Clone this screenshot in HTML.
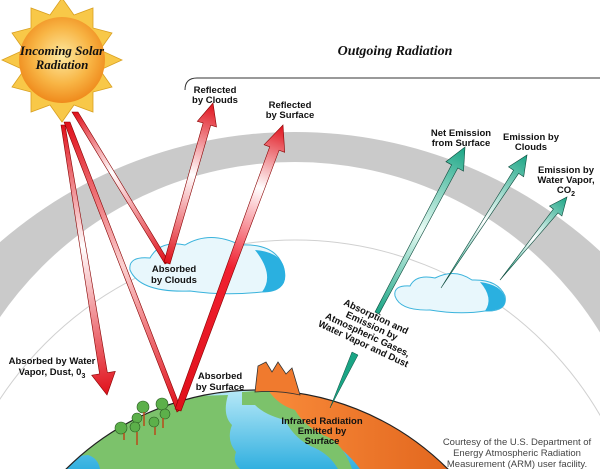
<!DOCTYPE html>
<html><head><meta charset="utf-8"><style>
html,body{margin:0;padding:0;background:#fff;overflow:hidden}
svg{display:block}
text{font-family:"Liberation Sans",sans-serif;font-weight:bold;font-size:9.5px;fill:#111}
</style></head><body>
<svg width="600" height="469" viewBox="0 0 600 469" xmlns="http://www.w3.org/2000/svg">
<defs>
<radialGradient id="sun" cx="50%" cy="45%" r="55%"><stop offset="0" stop-color="#fde9a0"/><stop offset="0.6" stop-color="#f8b545"/><stop offset="1" stop-color="#ef8a1c"/></radialGradient>
<linearGradient id="r1" x1="63" y1="125" x2="107" y2="395" gradientUnits="userSpaceOnUse"><stop offset="0" stop-color="#e0101a"/><stop offset="0.45" stop-color="#fff"/><stop offset="1" stop-color="#e0101a"/></linearGradient>
<linearGradient id="r2" x1="67" y1="122" x2="178" y2="410" gradientUnits="userSpaceOnUse"><stop offset="0" stop-color="#e0101a"/><stop offset="0.5" stop-color="#fbd0d0"/><stop offset="1" stop-color="#e0101a"/></linearGradient>
<linearGradient id="r3" x1="178" y1="410" x2="283" y2="125" gradientUnits="userSpaceOnUse"><stop offset="0" stop-color="#e0101a"/><stop offset="0.5" stop-color="#f02030"/><stop offset="0.78" stop-color="#fff"/><stop offset="1" stop-color="#e0101a"/></linearGradient>
<linearGradient id="r4" x1="167" y1="263" x2="213" y2="103" gradientUnits="userSpaceOnUse"><stop offset="0" stop-color="#e0101a"/><stop offset="0.55" stop-color="#fff"/><stop offset="1" stop-color="#e0101a"/></linearGradient>
<linearGradient id="r5" x1="75" y1="112" x2="167" y2="263" gradientUnits="userSpaceOnUse"><stop offset="0" stop-color="#e0101a"/><stop offset="0.4" stop-color="#fff"/><stop offset="1" stop-color="#e0101a"/></linearGradient>
<linearGradient id="t1" x1="377" y1="313" x2="465" y2="147" gradientUnits="userSpaceOnUse"><stop offset="0" stop-color="#1aa585"/><stop offset="0.5" stop-color="#e8fbf4"/><stop offset="1" stop-color="#1aa585"/></linearGradient>
<linearGradient id="t2" x1="441" y1="288" x2="527" y2="155" gradientUnits="userSpaceOnUse"><stop offset="0" stop-color="#1aa585"/><stop offset="0.5" stop-color="#fff"/><stop offset="1" stop-color="#1aa585"/></linearGradient>
<linearGradient id="t3" x1="500" y1="280" x2="567" y2="197" gradientUnits="userSpaceOnUse"><stop offset="0" stop-color="#1aa585"/><stop offset="0.5" stop-color="#fff"/><stop offset="1" stop-color="#1aa585"/></linearGradient>
<linearGradient id="orange" x1="0" y1="0" x2="1" y2="0"><stop offset="0" stop-color="#f98b3a"/><stop offset="1" stop-color="#d04a08"/></linearGradient>
<linearGradient id="sea" x1="0" y1="0" x2="0" y2="1"><stop offset="0" stop-color="#c8f0fb"/><stop offset="1" stop-color="#1fa8dc"/></linearGradient>
<clipPath id="earth"><circle cx="257" cy="660" r="270"/></clipPath>
<mask id="band"><rect width="600" height="469" fill="#fff"/><circle cx="295" cy="520" r="358" fill="#000"/></mask>
</defs>

<!-- gray atmosphere band -->
<circle cx="295" cy="582" r="450" fill="#cacaca" mask="url(#band)"/>
<circle cx="295" cy="593" r="353" fill="none" stroke="#d0d0d0" stroke-width="1"/>

<!-- outgoing bracket -->
<path d="M185 90 Q185 78 197 78 L600 78" fill="none" stroke="#333" stroke-width="1"/>
<text x="395" y="55" text-anchor="middle" style="font-family:'Liberation Serif',serif;font-style:italic;font-size:14px">Outgoing Radiation</text>

<!-- earth -->
<g clip-path="url(#earth)">
<rect x="0" y="380" width="600" height="100" fill="url(#sea)"/>
<path d="M60 400 L228 395 Q222 415 232 425 Q226 440 236 452 Q232 462 240 469 L100 469 Q98 458 88 455 L60 458 Z" fill="#7cc26b"/>
<path d="M262 390 Q270 405 290 410 Q300 430 330 440 Q350 455 360 469 L600 469 L600 380 L262 380 Z" fill="url(#orange)"/>
<path d="M242 392 L268 390 Q278 405 295 410 Q305 428 330 438 Q345 448 352 469 L338 469 Q330 455 315 448 Q295 440 285 420 Q265 415 255 405 L242 405 Z" fill="#7cc26b"/>
</g>
<circle cx="257" cy="660" r="270" fill="none" stroke="#222" stroke-width="1.2"/>
<!-- mountain -->
<path d="M255 392 L258 366 L266 362 L272 372 L278 362 L286 374 L292 368 L300 395 Q278 390 255 392 Z" fill="#f07a2e" stroke="#333" stroke-width="0.8"/>
<!-- trees -->
<g fill="#5cb04a" stroke="#2a5a22" stroke-width="0.6">
<circle cx="121" cy="428" r="6"/><circle cx="143" cy="407" r="6"/><circle cx="137" cy="418" r="5"/><circle cx="162" cy="404" r="6"/><circle cx="135" cy="427" r="5"/><circle cx="154" cy="422" r="5"/><circle cx="165" cy="414" r="5"/>
</g>
<g stroke="#b84a1a" stroke-width="1.5"><line x1="124" y1="433" x2="124" y2="440"/><line x1="144" y1="412" x2="144" y2="426"/><line x1="137" y1="432" x2="137" y2="445"/><line x1="155" y1="427" x2="155" y2="435"/><line x1="163" y1="418" x2="163" y2="428"/></g>

<!-- clouds -->
<path d="M130 270 Q128 256 150 258 Q160 240 185 245 Q210 230 240 245 Q278 243 284 270 Q288 292 262 292 Q225 296 190 291 Q140 293 130 270 Z" fill="#e8f7fc" stroke="#3ab3dc" stroke-width="1"/>
<path d="M255 250 Q283 252 285 272 Q288 292 262 292 Q275 275 255 250 Z" fill="#2ab0e0"/>
<path d="M395 296 Q393 285 410 286 Q416 274 435 278 Q455 268 472 280 Q498 279 505 296 Q508 312 485 311 Q460 315 430 310 Q400 311 395 296 Z" fill="#e8f7fc" stroke="#3ab3dc" stroke-width="1"/>
<path d="M480 282 Q502 285 505 298 Q507 311 485 311 Q494 298 480 282 Z" fill="#2ab0e0"/>

<!-- red arrows -->
<polygon points="61,125 65,125 107.4,372.7 115.3,371.4 107,395 91.7,375.2 99.6,373.9" fill="url(#r1)" stroke="#800" stroke-width="0.6"/>
<polygon points="64,122 70,122 181,409 177,412" fill="url(#r2)" stroke="#800" stroke-width="0.6"/>
<polygon points="175,409 269.7,146.8 264.1,144.7 283,125 284.7,152.3 279.1,150.2 181,411" fill="url(#r3)" stroke="#800" stroke-width="0.6"/>
<polygon points="72,112 78,112 169,262 165,264" fill="url(#r5)" stroke="#800" stroke-width="0.6"/>
<polygon points="164,262 203.1,123 197.3,121.3 213,103 216.5,126.9 210.7,125.2 170,264" fill="url(#r4)" stroke="#800" stroke-width="0.6"/>

<!-- teal arrows -->
<polygon points="375,312 451.6,164.8 445.9,161.7 465,147 463.5,171.1 457.8,168 379,314" fill="url(#t1)" stroke="#0d4a3c" stroke-width="0.6"/>
<polygon points="352,352 358,355 330,408" fill="#1aa585" stroke="#0d4a3c" stroke-width="0.5"/>
<polygon points="441,288 513.6,170.2 508.5,166.9 527,155 523.7,176.7 518.6,173.4" fill="url(#t2)" stroke="#0d4a3c" stroke-width="0.6"/>
<polygon points="500,280 553.4,209.1 549.5,206 567,197 561.9,216 558,212.9" fill="url(#t3)" stroke="#0d4a3c" stroke-width="0.6"/>

<!-- sun -->
<polygon points="62,-2 74,15 93,8 93,28 112,33 100,50 122,60 100,70 112,87 93,92 93,112 74,105 62,122 50,105 31,112 31,92 12,87 24,70 2,60 24,50 12,33 31,28 31,8 50,15" fill="#f8c848" stroke="#d9a020" stroke-width="0.8"/>
<circle cx="62" cy="60" r="43" fill="url(#sun)"/>
<text x="62" y="55" text-anchor="middle" style="font-family:'Liberation Serif',serif;font-style:italic;font-size:13px">Incoming Solar</text>
<text x="62" y="69" text-anchor="middle" style="font-family:'Liberation Serif',serif;font-style:italic;font-size:13px">Radiation</text>

<!-- labels -->
<text x="215" y="93" text-anchor="middle">Reflected</text><text x="215" y="103" text-anchor="middle">by Clouds</text>
<text x="290" y="108" text-anchor="middle">Reflected</text><text x="290" y="118" text-anchor="middle">by Surface</text>
<text x="461" y="136" text-anchor="middle">Net Emission</text><text x="461" y="146" text-anchor="middle">from Surface</text>
<text x="531" y="140" text-anchor="middle">Emission by</text><text x="531" y="150" text-anchor="middle">Clouds</text>
<text x="566" y="173" text-anchor="middle">Emission by</text><text x="566" y="183" text-anchor="middle">Water Vapor,</text><text x="566" y="193" text-anchor="middle">CO<tspan font-size="7" dy="3">2</tspan></text>
<text x="174" y="272" text-anchor="middle">Absorbed</text><text x="174" y="283" text-anchor="middle">by Clouds</text>
<text x="52" y="364" text-anchor="middle">Absorbed by Water</text><text x="52" y="375" text-anchor="middle">Vapor, Dust, 0<tspan font-size="7" dy="3">3</tspan></text>
<text x="220" y="379" text-anchor="middle">Absorbed</text><text x="220" y="390" text-anchor="middle">by Surface</text>
<g transform="translate(368,334) rotate(25)">
<text x="0" y="-16" text-anchor="middle">Absorption and</text>
<text x="0" y="-6" text-anchor="middle">Emission by</text>
<text x="0" y="4" text-anchor="middle">Atmospheric Gases,</text>
<text x="0" y="14" text-anchor="middle">Water Vapor and Dust</text>
</g>
<text x="322" y="424" text-anchor="middle">Infrared Radiation</text><text x="322" y="434" text-anchor="middle">Emitted by</text><text x="322" y="444" text-anchor="middle">Surface</text>
<text x="517" y="445" text-anchor="middle" style="font-weight:normal;fill:#444">Courtesy of the U.S. Department of</text>
<text x="517" y="456" text-anchor="middle" style="font-weight:normal;fill:#444">Energy Atmospheric Radiation</text>
<text x="517" y="467" text-anchor="middle" style="font-weight:normal;fill:#444">Measurement (ARM) user facility.</text>
</svg>
</body></html>
